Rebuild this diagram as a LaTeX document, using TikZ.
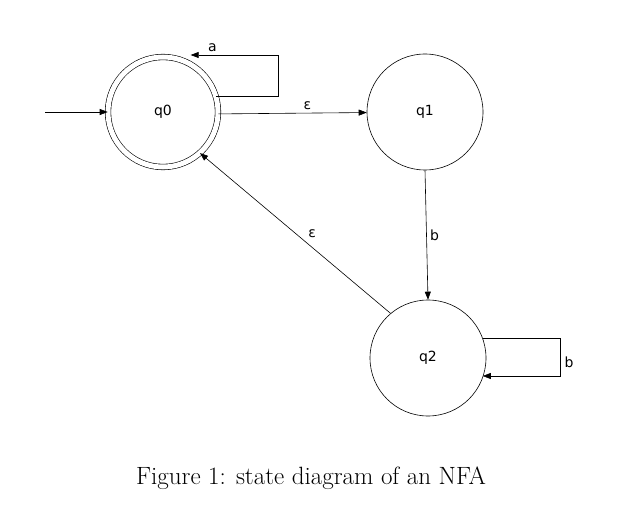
\documentclass[tikz,border=0pt]{standalone}
\usepackage{fontspec}
\setmainfont{Latin Modern Roman}
\newfontfamily\lab{DejaVu Sans}
\usetikzlibrary{arrows.meta}
\begin{document}
\begin{tikzpicture}[x=1pt,y=-1pt,
  st/.style={circle,draw,line width=0.6pt,minimum size=116pt,inner sep=0pt,font=\lab\fontsize{14}{16}\selectfont},
  ar/.style={line width=0.6pt,-{Triangle[length=8pt,width=6pt]}},
  lb/.style={font=\lab\fontsize{14}{16}\selectfont}]
\useasboundingbox (0,0) rectangle (626,526);
\node[st,double,double distance=5pt,minimum size=110pt] (q0) at (163,112) {q0};
\node[st] (q1) at (425,112) {q1};
\node[st] (q2) at (428,358) {q2};
\coordinate (s) at (45,112);
\draw[ar] (s) -- (q0);
\draw[ar] (q0.-2) -- node[lb,above,pos=0.6]{ε} (q1);
\draw[ar] (q1.-90) -- node[lb,right]{b} (q2.90);
\draw[ar] (q2.130) -- node[lb,above right,pos=0.45]{ε} (q0.-48);
\draw[ar] (q0.17) -| (278,55) -- node[lb,above,pos=0.75]{a} (q0.60 |- 0,55);
\draw[ar] (q2.20) -| (560,376) -- (q2.-20 |- 0,376);
\node[lb] (lbb) at (569,362) {b};
\node[font=\fontsize{25}{30}\selectfont] (cap) at (311,478) {Figure 1: state diagram of an NFA};
\end{tikzpicture}
\end{document}
